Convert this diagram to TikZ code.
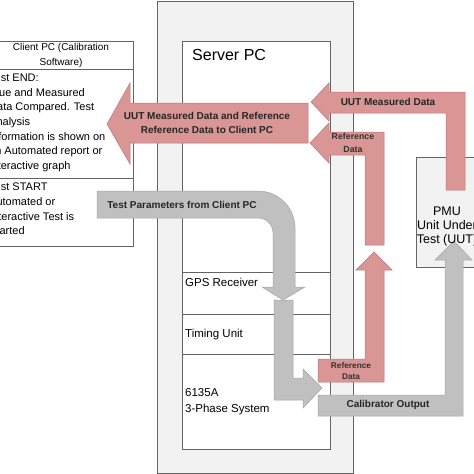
\documentclass[tikz,border=0pt]{standalone}
\usepackage{fontspec}
\setmainfont{Liberation Sans}
\definecolor{pinkfill}{RGB}{217,150,148}
\definecolor{pinkline}{RGB}{188,118,115}
\definecolor{greyfill}{RGB}{192,192,192}
\definecolor{greyline}{RGB}{165,165,165}
\definecolor{panel}{RGB}{242,242,242}
\definecolor{frame}{RGB}{100,100,100}

\begin{document}
\begin{tikzpicture}[x=1pt,y=-1pt,
  box/.style={draw=frame,line width=0.8pt},
  redarrow/.style={draw=pinkline,fill=pinkfill,line width=0.5pt},
  greyarrow/.style={draw=greyline,fill=greyfill,line width=0.5pt},
  lbl/.style={font=\fontsize{10}{14}\selectfont\bfseries,text=black!85,align=center,inner sep=0pt},
  small/.style={font=\fontsize{8.3}{11.5}\selectfont\bfseries,text=black!80,align=center,inner sep=0pt},
  part/.style={font=\fontsize{11.5}{16}\selectfont,anchor=west,align=left,inner sep=0pt},
  steptext/.style={font=\fontsize{11}{14.6}\selectfont,anchor=north west,align=left,inner sep=0pt}]
\useasboundingbox (0,0) rectangle (474,474);

% server PC
\path[box,fill=panel] (157,1) rectangle (353,473);
\path[box,fill=white] (182,41) rectangle (330,449);
\path[box] (182,272) -- (330,272);
\path[box] (182,314) -- (330,314);
\path[box] (182,354) -- (330,354);
\node[font=\fontsize{16}{19}\selectfont,anchor=west,inner sep=0pt] (server) at (192,55) {Server PC};
\node[part] (gps) at (185,282) {GPS Receiver};
\node[part] (timing) at (185,335) {Timing Unit};
\node[part] (source) at (185,402) {6135A\\3-Phase System};

% client PC
\path[box] (-30,41) rectangle (133,246);
\path[box] (-30,69) -- (133,69);
\path[box] (-30,178) -- (133,178);
\node[font=\fontsize{10}{15}\selectfont,align=center,inner sep=0pt] (client) at (61,55) {Client PC (Calibration\\Software)};
\node[steptext] (testend) at (-11,74) {Test END:\\True and Measured\\Data Compared. Test\\Analysis\\Information is shown on\\an Automated report or\\interactive graph};
\node[steptext] (teststart) at (-11,183) {Test START\\Automated or\\Interactive Test is\\Started};

% PMU
\path[box,fill=panel] (416,157) rectangle (490,267);

% data back to the client
\path[redarrow] (308,103) -- (130,103) -- (130,83) -- (107,124) -- (130,164) -- (130,143) -- (308,143) -- cycle;
\node[lbl] (toclient) at (207,123) {UUT Measured Data and Reference\\Reference Data to Client PC};
\path[redarrow] (465,190) -- (465,92) -- (329,92) -- (329,83) -- (311,102) -- (329,121) -- (329,113) -- (446,113) -- (446,190) -- cycle;
\node[lbl] (measured) at (388,102) {UUT Measured Data};
\path[redarrow] (384,245) -- (384,132) -- (329,132) -- (329,123) -- (310,143) -- (329,163) -- (329,155) -- (365,155) -- (365,245) -- cycle;
\node[small,font=\fontsize{8.8}{13}\selectfont\bfseries] (refup) at (353,143) {Reference\\Data};
\path[redarrow] (318,359) -- (365,359) -- (365,270) -- (356,270) -- (374,252) -- (392,270) -- (384,270) -- (384,382) -- (318,382) -- cycle;
\node[small] (reflow) at (351,371) {Reference\\Data};

% test parameters and calibrator output
\path[greyarrow] (97,191) -- (258,191) arc[start angle=-90,end angle=0,radius=37] -- (295,287) -- (305,287) -- (283,300) -- (262,287) -- (273,287) -- (273,233) arc[start angle=0,end angle=-90,radius=15] -- (97,218) -- cycle;
\node[lbl] (params) at (182,205) {Test Parameters from Client PC};
\path[greyarrow] (274,300) -- (293,300) -- (293,378) -- (303,378) -- (303,369) -- (322,388) -- (303,408) -- (303,400) -- (274,400) -- cycle;
\path[greyarrow] (318,395) -- (445,395) -- (445,260) -- (435,260) -- (454,241) -- (472,260) -- (463,260) -- (463,416) -- (318,416) -- cycle;
\node[lbl] (calib) at (388,405) {Calibrator Output};
\node[font=\fontsize{12.5}{14}\selectfont,align=center,inner sep=0pt] (pmu) at (447,226) {PMU\\Unit Under\\Test (UUT)};
\end{tikzpicture}
\end{document}
